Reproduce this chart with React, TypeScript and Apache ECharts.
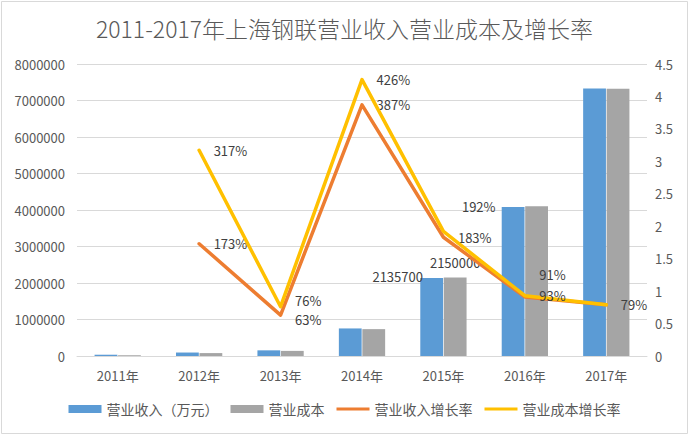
import React, { useEffect, useRef } from "react";
import * as echarts from "echarts";

const categories = ["2011年", "2012年", "2013年", "2014年", "2015年", "2016年", "2017年"];
const revenue = [35000, 95000, 155000, 755000, 2135700, 4080000, 7330000];
const cost = [19000, 80000, 140000, 736000, 2150000, 4100000, 7320000];
const revenueGrowth = [null, 1.73, 0.63, 3.87, 1.83, 0.91, 0.79];
const costGrowth = [null, 3.17, 0.76, 4.26, 1.92, 0.93, 0.79];
const leftTicks = { min: 0, max: 8000000, interval: 1000000 };
const rightTicks = { min: 0, max: 4.5, interval: 0.5 };
const seriesNames = ["营业收入（万元）", "营业成本", "营业收入增长率", "营业成本增长率"];
const titleText = "2011-2017年上海钢联营业收入营业成本及增长率";

const FONT = "'Noto Sans CJK SC', 'Noto Sans', sans-serif";
const LABEL_COLOR = "#404040";

export default function App() {
  const ref = useRef<HTMLDivElement>(null);
  useEffect(() => {
    document.body.style.margin = "0";
    if (!ref.current) return;
    const chart = echarts.init(ref.current, null, { renderer: "svg" });

    const pct = (p: any) => Math.round(p.value * 100) + "%";

    const revBarData = revenue.map((v, i) =>
      i === 4
        ? { value: v, label: { show: true, position: "top", offset: [-34, 10] } }
        : v
    );
    const costBarData = cost.map((v, i) =>
      i === 4
        ? { value: v, label: { show: true, position: "top", offset: [0, -4] } }
        : v
    );

    const revLabelTweaks: Record<number, any> = {
      2: { label: { offset: [0, 4] } },
      5: { label: { offset: [0, -22] } },
      6: { label: { show: false } },
    };
    const costLabelTweaks: Record<number, any> = {
      2: { label: { offset: [0, -6] } },
      4: { label: { offset: [4, -25] } },
    };

    const revLineData = revenueGrowth.map((v, i) =>
      revLabelTweaks[i] ? { value: v, ...revLabelTweaks[i] } : v
    );
    const costLineData = costGrowth.map((v, i) =>
      costLabelTweaks[i] ? { value: v, ...costLabelTweaks[i] } : v
    );

    const lineLabel = {
      show: true,
      position: "right",
      distance: 14,
      formatter: pct,
      color: LABEL_COLOR,
      fontSize: 13,
      fontFamily: FONT,
    };

    chart.setOption({
      animation: false,
      backgroundColor: "#ffffff",
      textStyle: { fontFamily: FONT },
      title: {
        text: titleText,
        left: "center",
        top: 11,
        textStyle: { fontSize: 23, fontWeight: 300, color: "#595959", fontFamily: FONT },
      },
      graphic: [
        {
          type: "rect",
          shape: { x: 1.5, y: 1.5, width: 686, height: 432 },
          style: { fill: "none", stroke: "#d9d9d9", lineWidth: 1 },
          silent: true,
        },
      ],
      legend: {
        bottom: 14,
        left: "center",
        itemGap: 12,
        itemWidth: 33,
        itemHeight: 10,
        textStyle: { fontSize: 14, color: "#595959", fontFamily: FONT },
        data: [
          { name: seriesNames[0], icon: "path://M0,1 L33,1 L33,9 L0,9 Z M0,0 M0,10" },
          { name: seriesNames[1], icon: "path://M0,1 L33,1 L33,9 L0,9 Z M0,0 M0,10" },
          { name: seriesNames[2], icon: "path://M0,3.5 L33,3.5 L33,6.5 L0,6.5 Z M0,0 M0,10" },
          { name: seriesNames[3], icon: "path://M0,3.5 L33,3.5 L33,6.5 L0,6.5 Z M0,0 M0,10" },
        ],
      },
      grid: { left: 77, right: 42, top: 64, bottom: 79 },
      xAxis: {
        type: "category",
        data: categories,
        axisLine: { lineStyle: { color: "#d9d9d9" } },
        axisTick: { show: false },
        axisLabel: { color: "#595959", fontSize: 13, margin: 13, fontFamily: FONT },
      },
      yAxis: [
        {
          type: "value",
          min: leftTicks.min,
          max: leftTicks.max,
          interval: leftTicks.interval,
          axisLine: { show: false },
          axisTick: { show: false },
          splitLine: { lineStyle: { color: "#d9d9d9" } },
          axisLabel: {
            color: "#595959",
            fontSize: 13,
            margin: 12,
            fontFamily: FONT,
            formatter: (v: number) => String(v),
          },
        },
        {
          type: "value",
          min: rightTicks.min,
          max: rightTicks.max,
          interval: rightTicks.interval,
          axisLine: { show: false },
          axisTick: { show: false },
          splitLine: { show: false },
          axisLabel: { color: "#595959", fontSize: 13, margin: 8, fontFamily: FONT },
        },
      ],
      series: [
        {
          name: seriesNames[0],
          type: "bar",
          data: revBarData,
          barWidth: "28%",
          barGap: "3%",
          itemStyle: { color: "#5B9BD5" },
          label: { show: false, color: LABEL_COLOR, fontSize: 13, fontFamily: FONT },
        },
        {
          name: seriesNames[1],
          type: "bar",
          data: costBarData,
          barWidth: "28%",
          itemStyle: { color: "#A5A5A5" },
          label: { show: false, color: LABEL_COLOR, fontSize: 13, fontFamily: FONT },
        },
        {
          name: seriesNames[2],
          type: "line",
          yAxisIndex: 1,
          data: revLineData,
          symbol: "circle",
          symbolSize: 1,
          itemStyle: { color: "#ED7D31" },
          lineStyle: { color: "#ED7D31", width: 3.5, cap: "round", join: "round" },
          label: lineLabel,
          z: 3,
        },
        {
          name: seriesNames[3],
          type: "line",
          yAxisIndex: 1,
          data: costLineData,
          symbol: "circle",
          symbolSize: 1,
          itemStyle: { color: "#FFC000" },
          lineStyle: { color: "#FFC000", width: 3.5, cap: "round", join: "round" },
          label: lineLabel,
          z: 4,
        },
      ],
    });
    return () => chart.dispose();
  }, []);
  return (
    <div
      ref={ref}
      style={{ position: "absolute", left: 0, top: 0, width: 689, height: 435 }}
    />
  );
}
